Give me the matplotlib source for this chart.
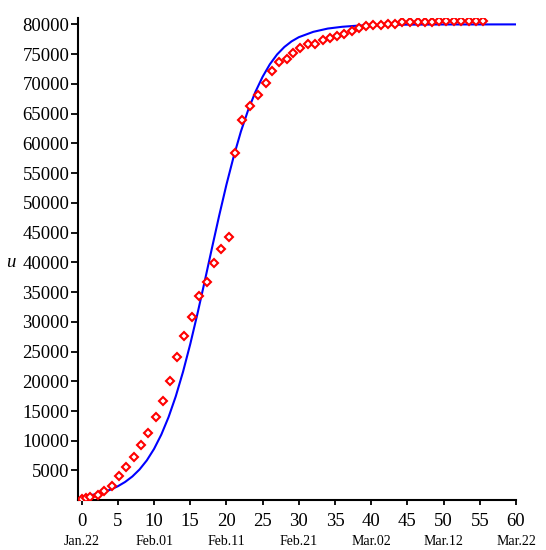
import matplotlib
matplotlib.use("Agg")
import matplotlib.pyplot as plt

plt.rcParams['font.family'] = ['Liberation Serif', 'DejaVu Serif']

# observed cumulative cases (red diamonds), day index from Jan.22
obs_t = [0, 0.55, 1.2, 2.25, 3.1, 4.2, 5.2, 6.15, 7.25, 8.2, 9.15, 10.25, 11.2, 12.2,
         13.2, 14.2, 15.23, 16.2, 17.35, 18.3, 19.2, 20.3, 21.2, 22.2, 23.3, 24.3,
         25.4, 26.3, 27.3, 28.3, 29.2, 30.2, 31.3, 32.3, 33.3, 34.3, 35.3, 36.3,
         37.3, 38.3, 39.3, 40.3, 41.3, 42.3, 43.3, 44.3, 45.3, 46.4, 47.4, 48.4,
         49.4, 50.4, 51.4, 52.4, 53.5, 54.5, 55.5]
obs_u = [200, 370, 540, 820, 1550, 2440, 4020, 5580, 7210, 9230, 11290, 14030, 16720,
         20100, 24010, 27650, 30840, 34270, 36730, 39920, 42170, 44230, 58300, 63900,
         66250, 68050, 70170, 72140, 73700, 74150, 75110, 76000, 76720, 76670, 77340,
         77730, 78000, 78460, 78900, 79400, 79700, 79870, 79920, 80080, 80080, 80320,
         80320, 80320, 80320, 80320, 80540, 80540, 80540, 80540, 80540, 80540, 80540]

# fitted model curve (blue line)
fit_t = [0, 1, 2, 3, 4, 5, 6, 7, 8, 9, 10, 11, 12, 13, 14, 15, 16, 17, 18, 19, 20,
         21, 22, 23, 24, 25, 26, 27, 28, 29, 30, 32, 34, 36, 38, 40, 45, 50, 60]
fit_u = [590, 780, 1030, 1360, 1790, 2350, 3070, 3990, 5180, 6700, 8630, 11030,
         13960, 17470, 21580, 26250, 31380, 36830, 42400, 47870, 53060, 57790,
         62000, 65600, 68650, 71200, 73300, 74950, 76200, 77150, 77850, 78750,
         79300, 79600, 79780, 79870, 79960, 79990, 80000]

xticks = list(range(0, 61, 5))
yticks = list(range(5000, 80001, 5000))
date_pos = [0, 10, 20, 30, 40, 50, 60]
date_labels = ['Jan.22', 'Feb.01', 'Feb.11', 'Feb.21', 'Mar.02', 'Mar.12', 'Mar.22']

fig = plt.figure(figsize=(5.46, 5.5), dpi=100)
ax = fig.add_axes([0.1423, 0.0905, 0.8027, 0.8765])

ax.plot(fit_t, fit_u, color='#0000ff', linewidth=1.5, zorder=2)
ax.plot(obs_t, obs_u, linestyle='none', marker='D', markersize=4.5,
        markerfacecolor='white', markeredgecolor='#ff0000', markeredgewidth=1.5, zorder=3)

ax.set_xlim(-0.55, 60)
ax.set_ylim(0, 81050)
ax.set_xticks(xticks)
ax.set_yticks(yticks)
ax.tick_params(axis='x', direction='out', length=3.5, width=1.3, labelsize=13.5, pad=6)
ax.tick_params(axis='y', direction='out', length=5, width=1.3, labelsize=13.5, pad=1)

for s in ['top', 'right']:
    ax.spines[s].set_visible(False)
for s in ['left', 'bottom']:
    ax.spines[s].set_linewidth(1.5)

for p, lab in zip(date_pos, date_labels):
    ax.text(p, -0.085, lab, transform=ax.get_xaxis_transform(),
            ha='center', va='center', fontsize=10)

ax.text(-0.152, 0.494, 'u', transform=ax.transAxes, fontsize=13.5, style='italic',
        ha='center', va='center')

fig.savefig('out.png', dpi=100)
